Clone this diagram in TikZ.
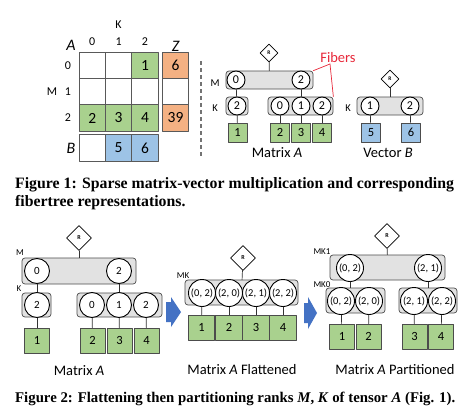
\documentclass[tikz,border=0pt]{standalone}
\usepackage{fontspec}
\setmainfont{Liberation Serif}
\setsansfont{Carlito}
\usepackage{pgf,tikz}
\usetikzlibrary{arrows,shapes.geometric}

\definecolor{leafgreen}{HTML}{A9D18E}
\definecolor{zorange}{HTML}{F4B183}
\definecolor{bblue}{HTML}{9DC3E6}
\definecolor{fibgray}{HTML}{E2E2E2}
\definecolor{arrowblue}{HTML}{4472C4}
\definecolor{fibred}{HTML}{E8283A}

\tikzset{
  cell/.style={draw=black!65, line width=0.8pt, minimum size=26.4pt, inner sep=0pt, font=\sffamily\fontsize{15.5}{15.5}\selectfont},
  gcell/.style={cell, fill=leafgreen},
  ocell/.style={cell, fill=zorange},
  bcell/.style={cell, fill=bblue},
  idx/.style={inner sep=0pt, font=\sffamily\fontsize{12}{12}\selectfont},
  big/.style={inner sep=0pt, font=\sffamily\itshape\fontsize{16}{16}\selectfont},
  fiber/.style={draw=black!70, line width=0.7pt, rounded corners=3pt, fill=fibgray, inner sep=0pt},
  crc/.style={circle, draw=black, line width=0.9pt, fill=white, inner sep=0pt, minimum size=18pt, font=\sffamily\fontsize{12}{12}\selectfont},
  crcb/.style={crc, minimum size=25pt, font=\sffamily\fontsize{11}{11}\selectfont},
  crcp/.style={crc, minimum size=27pt, font=\sffamily\fontsize{10.5}{10.5}\selectfont},
  leaf/.style={draw=black!70, line width=0.7pt, fill=leafgreen, inner sep=0pt, minimum size=19pt, font=\sffamily\fontsize{12.5}{12.5}\selectfont},
  bleaf/.style={leaf, fill=bblue},
  leafb/.style={leaf, minimum size=25pt, font=\sffamily\fontsize{12.5}{12.5}\selectfont},
  root/.style={diamond, draw=black, line width=0.7pt, fill=white, inner sep=0pt, minimum size=18pt, font=\sffamily\bfseries\fontsize{5.5}{5.5}\selectfont},
  rootb/.style={root, minimum size=25pt, font=\sffamily\bfseries\fontsize{6}{6}\selectfont},
  rank/.style={inner sep=0pt, font=\sffamily\fontsize{10.5}{10.5}\selectfont},
  rankb/.style={inner sep=0pt, font=\sffamily\fontsize{9}{9}\selectfont},
  title/.style={inner sep=0pt, font=\sffamily\fontsize{14.5}{14.5}\selectfont},
  caption/.style={inner sep=0pt, anchor=west, font=\bfseries\fontsize{15.8}{15.8}\selectfont},
  link/.style={black!80, line width=0.7pt}
}

\begin{document}
\begin{tikzpicture}[line cap=round,line join=round,x=1pt,y=-1pt]
\useasboundingbox[fill=white] (0,0) rectangle (474,415);

% Figure 1: the matrix, Z and B
\node[idx] (kname) at (118.6,25) {K};
\node[idx] (col0) at (92.2,42) {0};
\node[idx] (col1) at (118.6,42) {1};
\node[idx] (col2) at (145,42) {2};
\node[big] (aname) at (71,45) {A};
\node[big] (zname) at (175.5,46) {Z};
\node[idx] (row0) at (68,65.2) {0};
\node[idx] (row1) at (68,91.6) {1};
\node[idx] (row2) at (68,118) {2};
\node[idx] (mname) at (52,91.6) {M};
\node[cell] (a00) at (92.2,65.2) {};
\node[cell] (a01) at (118.6,65.2) {};
\node[gcell] (a02) at (145,65.2) {1};
\node[cell] (a10) at (92.2,91.6) {};
\node[cell] (a11) at (118.6,91.6) {};
\node[cell] (a12) at (145,91.6) {};
\node[gcell] (a20) at (92.2,118) {2};
\node[gcell] (a21) at (118.6,118) {3};
\node[gcell] (a22) at (145,118) {4};
\node[ocell] (z0) at (175.5,65.2) {6};
\node[cell] (z1) at (175.5,91.6) {};
\node[ocell] (z2) at (175.5,118) {39};
\node[big] (bname) at (71,148) {B};
\node[cell] (b0) at (92.2,148) {};
\node[bcell] (b1) at (118.6,148) {5};
\node[bcell] (b2) at (145,148) {6};
\draw[black!55, line width=1.3pt, dash pattern=on 4pt off 3pt, line cap=butt] (201,61) -- (201,158);

% Figure 1: fibertree of A
\node[root] (ra) at (269,53) {R};
\node[fiber, minimum width=87pt, minimum height=18pt] (fm) at (269.5,80) {};
\node[rank] (lm) at (215,83) {M};
\node[rank] (lk) at (215,108) {K};
\node[crc] (m0) at (236,80) {0};
\node[crc] (m2) at (301,80) {2};
\node[fiber, minimum width=22pt, minimum height=18pt] (fk0) at (237,106) {};
\node[fiber, minimum width=65pt, minimum height=18pt] (fk2) at (300.5,106) {};
\node[crc] (k02) at (237,106) {2};
\node[crc] (k20) at (280,106) {0};
\node[crc] (k21) at (301,106) {1};
\node[crc] (k22) at (322,106) {2};
\node[leaf] (v1) at (237.5,132.5) {1};
\node[leaf] (v2) at (280,132.5) {2};
\node[leaf] (v3) at (301,132.5) {3};
\node[leaf] (v4) at (322,132.5) {4};
\draw[link] (ra) -- (fm);
\draw[link] (m0) -- (fk0);
\draw[link] (m2) -- (k21);
\foreach \c/\v in {k02/v1,k20/v2,k21/v3,k22/v4}
  \draw[link] (\c) -- (\v);
\node[title] (tma) at (277,153) {Matrix \textit{A}};
\node[inner sep=0pt, text=fibred, font=\sffamily\fontsize{14.5}{14.5}\selectfont] (tfib) at (338,58) {Fibers};
\coordinate (fibpt) at (330,64);
\draw[fibred, line width=0.7pt] (fibpt) -- (fm.north east);
\draw[fibred, line width=0.7pt] (fibpt) -- (fk2.north east);

% Figure 1: fibertree of B
\node[root] (rb) at (390,79) {R};
\node[fiber, minimum width=66pt, minimum height=18pt] (fb) at (390,106) {};
\node[rank] (lkb) at (348,108) {K};
\node[crc] (b1c) at (370,106) {1};
\node[crc] (b2c) at (410,106) {2};
\node[bleaf] (w5) at (371,132.5) {5};
\node[bleaf] (w6) at (411,132.5) {6};
\draw[link] (rb) -- (fb);
\draw[link] (b1c) -- (w5);
\draw[link] (b2c) -- (w6);
\node[title] (tvb) at (388,153) {Vector \textit{B}};

\node[caption] (cap1) at (15,185) {Figure 1: Sparse matrix-vector multiplication and corresponding};
\node[caption] (cap1b) at (15,203) {fibertree representations.};

% Figure 2: matrix A
\node[rootb] (r2a) at (79,238) {R};
\node[rankb] (l2m) at (20,253) {M};
\node[rankb] (l2k) at (19,289) {K};
\node[fiber, minimum width=114pt, minimum height=26pt] (g2m) at (79,271) {};
\node[crcb] (p0) at (37,271) {0};
\node[crcb] (p2) at (119,271) {2};
\node[fiber, minimum width=29pt, minimum height=24pt] (g2k0) at (36.5,305) {};
\node[fiber, minimum width=85pt, minimum height=24pt] (g2k2) at (119.5,305) {};
\node[crcb] (q02) at (37,305) {2};
\node[crcb] (q20) at (92,305) {0};
\node[crcb] (q21) at (119,305) {1};
\node[crcb] (q22) at (146,305) {2};
\node[leafb] (u1) at (37,340.5) {1};
\node[leafb] (u2) at (92.5,340.5) {2};
\node[leafb] (u3) at (119.5,340.5) {3};
\node[leafb] (u4) at (146.5,340.5) {4};
\draw[link] (r2a) -- (g2m);
\draw[link] (p0) -- (q02);
\draw[link] (p2) -- (q21);
\foreach \c/\v in {q02/u1,q20/u2,q21/u3,q22/u4}
  \draw[link] (\c) -- (\v);
\node[title] (t2a) at (79,371) {Matrix \textit{A}};

% arrows between the trees
\fill[arrowblue] (166,302) -- (171,302) -- (171,297) -- (181,312) -- (171,327) -- (171,322) -- (166,322) -- cycle;
\fill[arrowblue] (304,303) -- (308,303) -- (308,297) -- (317,313) -- (308,329) -- (308,323) -- (304,323) -- cycle;

% Figure 2: flattened
\node[rootb] (r2f) at (243,258) {R};
\node[rankb] (l2mk) at (183,276) {MK};
\node[fiber, minimum width=113pt, minimum height=25pt] (gf) at (241.5,292.5) {};
\node[crcp] (f1) at (202,293) {(0, 2)};
\node[crcp] (f2) at (229,293) {(2, 0)};
\node[crcp] (f3) at (256,293) {(2, 1)};
\node[crcp] (f4) at (283,293) {(2, 2)};
\node[leafb, minimum width=26.5pt] (s1) at (201.5,327.5) {1};
\node[leafb, minimum width=26.5pt] (s2) at (229,327.5) {2};
\node[leafb, minimum width=26.5pt] (s3) at (256,327.5) {3};
\node[leafb, minimum width=26.5pt] (s4) at (283,327.5) {4};
\draw[link] (r2f) -- (gf);
\foreach \c/\v in {f1/s1,f2/s2,f3/s3,f4/s4}
  \draw[link] (\c) -- (\v);
\node[title] (t2f) at (242,370) {Matrix \textit{A} Flattened};

% Figure 2: partitioned
\node[rootb] (r2p) at (387,236) {R};
\node[rankb] (l2mk1) at (322,252) {MK1};
\node[rankb] (l2mk0) at (322,285) {MK0};
\node[fiber, minimum width=115pt, minimum height=25pt] (gp1) at (387.5,267.5) {};
\node[crcp] (h1) at (350,268) {(0, 2)};
\node[crcp] (h2) at (428,268) {(2, 1)};
\node[fiber, minimum width=59pt, minimum height=25pt] (gp0a) at (355.5,300.5) {};
\node[fiber, minimum width=58pt, minimum height=25pt] (gp0b) at (428,300.5) {};
\node[crcp] (e1) at (341,301) {(0, 2)};
\node[crcp] (e2) at (369,301) {(2, 0)};
\node[crcp] (e3) at (414,301) {(2, 1)};
\node[crcp] (e4) at (442,301) {(2, 2)};
\node[leafb] (t1) at (342,336.5) {1};
\node[leafb] (t2) at (368.5,336.5) {2};
\node[leafb] (t3) at (414.5,336.5) {3};
\node[leafb] (t4) at (441,336.5) {4};
\draw[link] (r2p) -- (gp1);
\draw[link] (h1.south) -- (h1.south |- gp0a.north);
\draw[link] (h2.south) -- (h2.south |- gp0b.north);
\foreach \c/\v in {e1/t1,e2/t2,e3/t3,e4/t4}
  \draw[link] (\c) -- (\v);
\node[title] (t2p) at (395,370) {Matrix \textit{A} Partitioned};

\node[caption, font=\bfseries\fontsize{14.8}{14.8}\selectfont] (cap2) at (15,399) {Figure 2: Flattening then partitioning ranks \textit{M}, \textit{K} of tensor \textit{A} (Fig. 1).};
\end{tikzpicture}
\end{document}
